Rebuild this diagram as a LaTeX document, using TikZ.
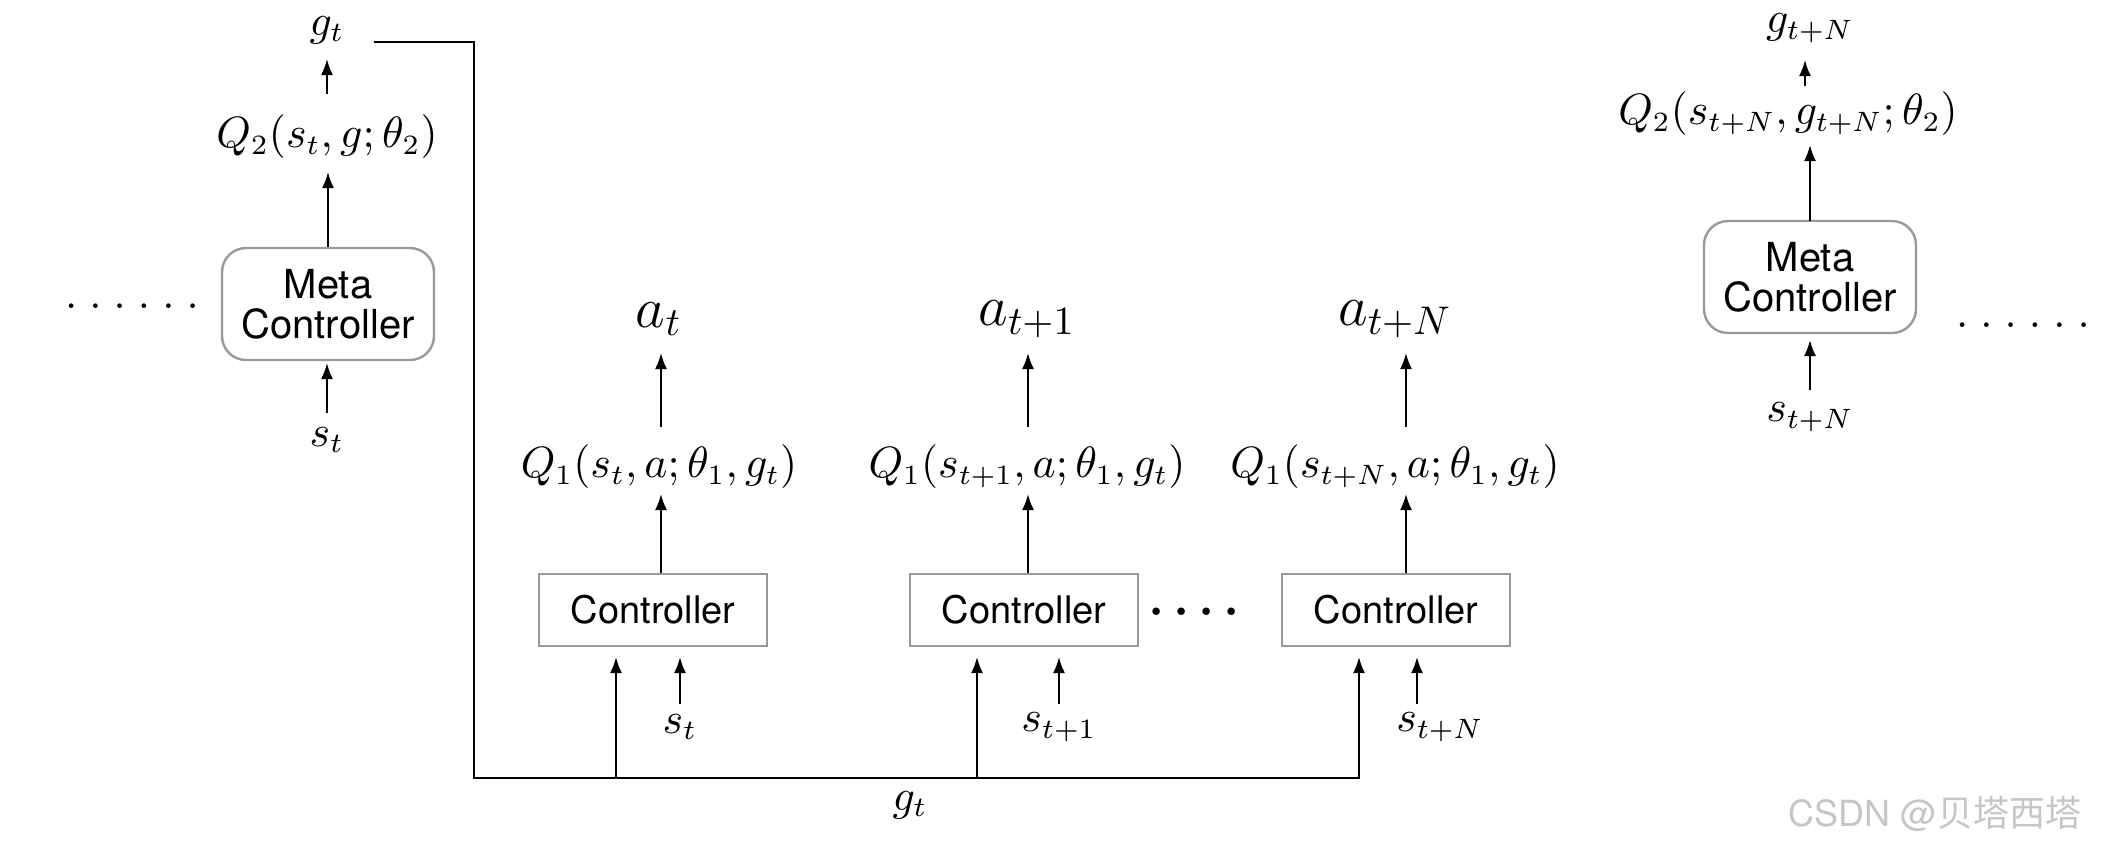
\documentclass[tikz,border=0pt]{standalone}
\usepackage{fontspec}
\setsansfont{TeX Gyre Heros}
\newfontfamily\cjk{Noto Sans CJK SC}
\usetikzlibrary{arrows.meta}
\begin{document}
\begin{tikzpicture}[x=0.25pt,y=-0.25pt,
  ar/.style={-{Latex[length=4pt,width=3pt]},line width=0.5pt},
  ctrl/.style={draw=gray!80,line width=0.6pt,minimum width=57pt,minimum height=18pt,font=\sffamily\fontsize{9.5}{11}\selectfont,inner sep=0pt},
  meta/.style={draw=gray!80,line width=0.6pt,rounded corners=6pt,minimum width=53pt,minimum height=28pt,font=\sffamily\fontsize{10}{11}\selectfont,align=center,inner sep=0pt},
  lab/.style={font=\fontsize{10.5}{12}\selectfont,inner sep=1pt},
  big/.style={font=\fontsize{14.5}{16}\selectfont,inner sep=1pt},
  dots/.style={font=\fontsize{10.5}{12}\selectfont}]
\useasboundingbox (0,0) rectangle (2110,850);
% left meta
\node[meta] (m1) at (328,304) {Meta\\[-1pt]Controller};
\node[lab] (q2a) at (327,137) {$Q_2(s_t,g;\theta_2)$};
\node[lab] (g1) at (327,30) {$g_t$};
\node[lab] (s1) at (327,440) {$s_t$};
\node[dots] (d1) at (132,306) {$.\;.\;.\;.\;.\;.$};
\draw[ar] (327,413) -- (327,363);
\draw[ar] (m1.north) -- (328,172);
\draw[ar] (327,94) -- (327,59);
% g line
\coordinate (ga) at (374,42);
\coordinate (gb) at (474,42);
\coordinate (gc) at (474,778);
\coordinate (gd) at (1360,778);
\draw[line width=0.6pt] (ga) -- (gb) -- (gc) -- (gd);
\node[lab] (gbot) at (910,805) {$g_t$};
% controllers
\node[ctrl] (c1) at (653,610) {Controller};
\node[ctrl] (c2) at (1024,610) {Controller};
\node[ctrl] (c3) at (1396,610) {Controller};
\node[font=\bfseries\fontsize{13}{14}\selectfont] (d2) at (1194,612) {.\,.\,.\,.};
\foreach \c/\gx/\sx/\slx/\qx/\ax/\s/\q/\a in {
  c1/616/680/680/659/661/{s_t}/{Q_1(s_t,a;\theta_1,g_t)}/{a_t},
  c2/977/1059/1059/1027/1028/{s_{t+1}}/{Q_1(s_{t+1},a;\theta_1,g_t)}/{a_{t+1}},
  c3/1359/1417/1440/1395/1406/{s_{t+N}}/{Q_1(s_{t+N},a;\theta_1,g_t)}/{a_{t+N}}}{
  \coordinate (\c g) at (\gx,778);
  \draw[ar] (\c g) -- (\gx,657);
  \node[lab] (\c s) at (\slx,727) {$\s$};
  \draw[ar] (\sx,704) -- (\sx,657);
  \node[lab] (\c q) at (\qx,467) {$\q$};
  \draw[ar] (\ax,573) -- (\ax,494);
  \node[big] (\c a) at (\qx,319) {$\a$};
  \draw[ar] (\ax,427) -- (\ax,353);
}
% right meta
\node[meta] (m2) at (1810,277) {Meta\\[-1pt]Controller};
\node[lab] (q2b) at (1788,114) {$Q_2(s_{t+N},g_{t+N};\theta_2)$};
\node[lab,inner sep=0pt] (g2) at (1810,28) {$g_{t+N}$};
\node[lab] (s2) at (1810,417) {$s_{t+N}$};
\node[dots] (d3) at (2023,325) {$.\;.\;.\;.\;.\;.$};
\draw[ar] (1810,390) -- (1810,340);
\draw[ar] (1810,221) -- (1810,145);
\draw[ar] (1805,86) -- (1805,60);
\node[text=gray!45,font=\fontsize{9}{10}\selectfont] (wm) at (1935,814) {\sffamily CSDN @{\cjk 贝塔西塔}};
\end{tikzpicture}
\end{document}
